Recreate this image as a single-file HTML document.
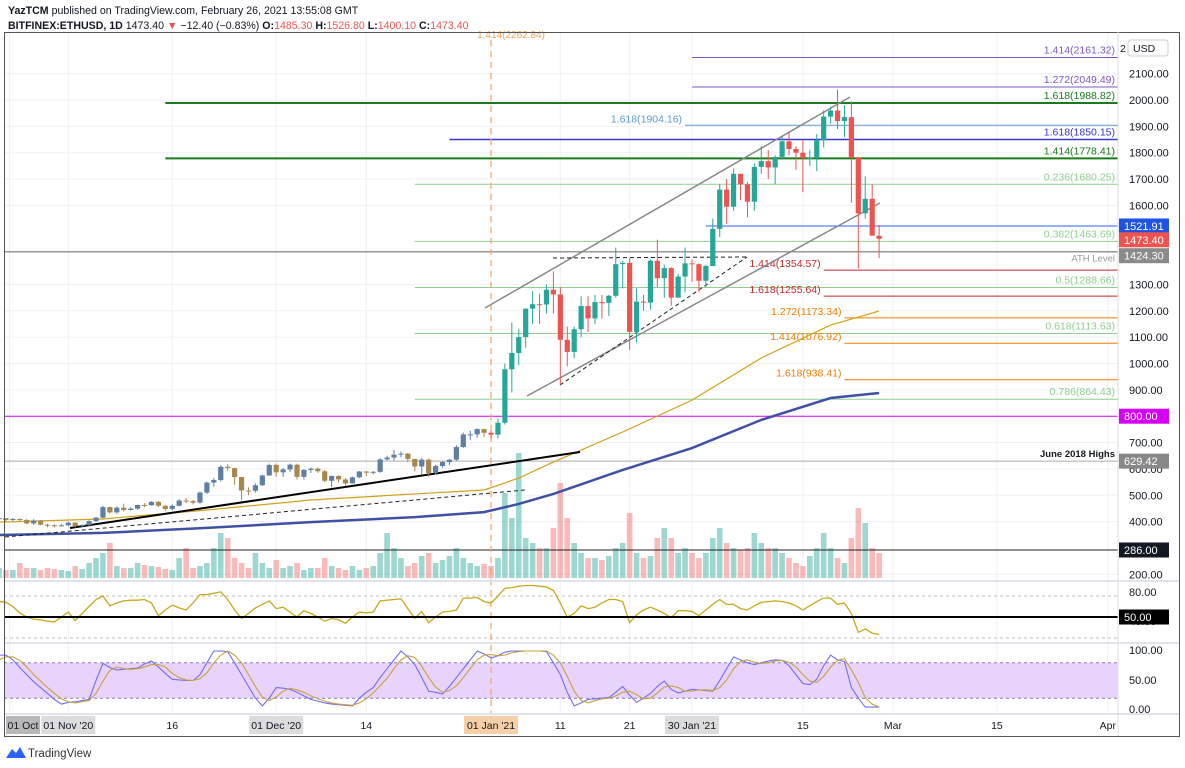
<!DOCTYPE html>
<html><head><meta charset="utf-8"><style>
body{margin:0;background:#fff;width:1185px;height:768px;overflow:hidden;font-family:"Liberation Sans",sans-serif;}
svg{position:absolute;left:0;top:0}
text{font-family:"Liberation Sans",sans-serif}
</style></head><body>
<svg id="c" width="1185" height="768" xmlns="http://www.w3.org/2000/svg"></svg>
<script>
// ===== DATA (Oct 22 2020 .. Feb 26 2021, daily) =====
const closes=[413,406,410,406,393,404,388,386,383,386,
396,383,387,402,415,455,435,453,444,449,463,462,475,460,448,460,480,478,472,510,548,558,608,603,569,518,517,538,575,615,
587,598,616,570,596,601,591,555,573,560,545,568,590,586,589,636,643,654,658,638,609,635,584,611,626,635,683,731,731,751,737,
730,775,978,1040,1100,1208,1225,1224,1280,1262,1090,1044,1130,1218,1171,1233,1230,1257,1377,1382,1120,1235,1231,1390,1324,1362,1250,1330,1380,1377,1314,
1370,1511,1660,1595,1720,1680,1614,1746,1768,1744,1784,1843,1814,1800,1780,1780,1847,1937,1960,1920,1935,1780,1570,1625,1485,1473];
const highs=[418,414,414,412,410,409,406,392,390,391,
400,398,390,405,418,460,457,457,468,455,465,470,477,478,462,465,485,490,482,515,552,566,614,618,605,570,530,545,578,620,
620,603,620,620,600,605,605,596,575,576,565,571,592,592,592,640,650,672,666,660,638,641,640,615,630,637,690,738,745,754,752,
745,790,1000,1155,1130,1210,1275,1265,1300,1350,1290,1140,1140,1255,1255,1260,1260,1260,1440,1390,1400,1285,1260,1395,1470,1375,1365,1340,1440,1395,1380,
1375,1550,1680,1700,1740,1700,1690,1760,1825,1810,1790,1860,1875,1825,1850,1810,1870,1960,1975,2040,1980,1995,1785,1710,1680,1526];
const lows=[400,400,402,402,390,388,386,378,378,381,
382,378,378,383,398,412,430,430,438,442,445,455,460,455,440,442,458,470,465,468,505,532,552,593,540,480,500,510,535,573,
570,570,588,560,560,585,585,550,530,548,537,544,565,573,580,585,632,632,644,626,590,580,570,578,605,615,630,680,710,718,720,
715,715,768,890,995,1060,1150,1150,1190,1190,920,990,1020,1100,1120,1150,1170,1180,1250,1285,1050,1080,1200,1205,1290,1250,1220,1250,1270,1310,1270,
1290,1370,1480,1530,1580,1620,1555,1580,1720,1700,1680,1775,1790,1735,1650,1750,1730,1820,1910,1890,1860,1610,1360,1550,1490,1400];
const volumes=[10,8,8,15,10,10,8,10,9,8,
7,12,9,15,20,25,35,12,10,10,15,13,12,11,9,8,20,30,10,12,15,30,45,40,20,15,10,25,15,10,
18,10,12,15,8,10,10,20,12,10,8,12,8,10,12,25,45,30,20,12,15,22,25,15,18,22,30,20,15,12,14,
12,20,85,60,125,40,35,30,30,50,95,60,35,25,20,20,18,22,30,35,65,25,20,22,40,50,40,25,30,25,20,
25,40,50,35,30,28,30,45,35,30,30,25,20,15,12,22,30,45,30,20,15,40,70,55,30,25];
const rsi=[72,71,65,56,50,47,46,44,43,50,57,45,55,65,75,80,66,70,73,74,74,75,70,52,60,67,63,60,70,82,
82,84,86,75,60,48,55,63,68,73,62,64,57,50,59,55,50,44,48,46,41,50,57,56,57,73,74,75,76,62,
48,58,42,50,57,58,60,77,77,78,72,70,80,91,92,94,95,95,94,93,88,70,50,55,66,62,64,70,75,75,
72,42,53,60,64,60,55,49,59,59,58,52,60,68,75,68,68,62,60,66,71,72,73,72,70,66,60,66,72,77,
77,68,70,55,28,33,27,25];
const stochK=[93,93,85,72,60,48,38,28,18,10,13,14,16,18,50,79,72,68,69,70,71,78,83,73,62,52,51,50,50,60,
80,100,100,99,80,60,40,20,7,20,38,37,35,30,24,18,15,12,10,9,8,7,20,30,38,55,70,85,100,90,
77,55,32,30,27,40,55,70,85,100,95,88,92,98,100,100,100,100,100,99,80,60,30,7,12,18,19,20,21,30,
40,25,13,20,28,40,49,35,29,32,35,34,33,32,50,70,90,85,80,77,80,83,85,84,75,60,45,43,52,75,
93,85,82,38,20,5,5,5];
const stochD=[85,90,90,84,73,60,49,38,28,19,14,12,14,16,28,49,67,73,70,69,70,73,77,77,73,62,55,51,50,53,
63,80,93,100,93,80,60,40,22,16,22,32,37,34,30,24,19,15,12,10,9,8,12,19,29,41,54,70,85,92,
89,74,55,39,30,33,41,55,70,85,93,94,92,93,97,99,100,100,100,100,93,80,57,32,16,12,16,19,20,24,
30,32,26,19,20,29,39,41,38,32,32,34,34,33,38,51,70,82,85,81,79,80,83,84,81,73,60,49,47,57,
73,84,87,68,47,21,10,5];
const maDays=[0,15,30,45,60,70,75,80,90,100,110,120,127];
const ma50=[398,410,444,482,505,520,565,626,740,861,1021,1146,1199];
const ma200=[349,357,376,398,417,436,467,505,596,679,786,869,888];
const priceTicks=[2100,2000,1900,1800,1700,1600,1300,1200,1100,1000,900,700,600,500,400,200];
const fibLevels=[
 {v:2161.32,t:"1.414(2161.32)",c:"#7e57c2",d0:100,lab:"r"},
 {v:2049.49,t:"1.272(2049.49)",c:"#7e57c2",d0:100,lab:"r"},
 {v:1988.82,t:"1.618(1988.82)",c:"#1b7a1b",d0:24,lab:"r",w:2},
 {v:1904.16,t:"1.618(1904.16)",c:"#5b9bd5",d0:99,lab:"l"},
 {v:1850.15,t:"1.618(1850.15)",c:"#3535d8",d0:65,lab:"r",w:1.5},
 {v:1778.41,t:"1.414(1778.41)",c:"#1b7a1b",d0:24,lab:"r",w:2},
 {v:1680.25,t:"0.236(1680.25)",c:"#8fcf8f",d0:60,lab:"r"},
 {v:1521.91,t:"",c:"#2962ff",d0:102,lab:"n"},
 {v:1463.69,t:"0.382(1463.69)",c:"#8fcf8f",d0:60,lab:"r"},
 {v:1354.57,t:"1.414(1354.57)",c:"#c62828",d0:119,lab:"l"},
 {v:1288.66,t:"0.5(1288.66)",c:"#8fcf8f",d0:60,lab:"r"},
 {v:1255.64,t:"1.618(1255.64)",c:"#c62828",d0:119,lab:"l"},
 {v:1173.34,t:"1.272(1173.34)",c:"#f57c00",d0:122,lab:"l"},
 {v:1113.63,t:"0.618(1113.63)",c:"#8fcf8f",d0:60,lab:"r"},
 {v:1076.92,t:"1.414(1076.92)",c:"#f57c00",d0:122,lab:"l"},
 {v:938.41,t:"1.618(938.41)",c:"#f57c00",d0:122,lab:"l"},
 {v:864.43,t:"0.786(864.43)",c:"#8fcf8f",d0:60,lab:"r"}];
const timeLabels=[[1.5,"01 Oct"],[10,"01 Nov '20"],[25,"16"],[40,"01 Dec '20"],[53,"14"],[71,"01 Jan '21"],[81,"11"],[91,"21"],[100,"30 Jan '21"],[116,"15"],[129,"Mar"],[144,"15"],[160,"Apr"]];

// ===== AXES =====
const X=d=>-1+d*6.93;
const Y=p=>100+(2000-p)*0.2635;
const YR=v=>617-(v-50)*0.7;
const YS=v=>710-v*0.59;
const VB=578, VS=1.0;
const svg=document.getElementById('c');
const NS="http://www.w3.org/2000/svg";
function mk(tag,at,parent){const e=document.createElementNS(NS,tag);for(const k in at)e.setAttribute(k,at[k]);(parent||svg).appendChild(e);return e;}
function tx(x,y,s,at,parent){const e=mk('text',Object.assign({x:x,y:y,'font-size':11,fill:'#131722'},at),parent);e.textContent=s;return e;}
const R=1118;

// header
let h=tx(8,14,"",{'font-size':10.6});

h.innerHTML='<tspan font-weight="bold">YazTCM</tspan> published on TradingView.com, February 26, 2021 13:55:08 GMT';
let h2=tx(8,29,"",{'font-size':10.6});

h2.innerHTML='<tspan font-weight="bold">BITFINEX:ETHUSD, 1D</tspan> 1473.40 <tspan fill="#ef5350">▼</tspan> −12.40 (−0.83%) <tspan font-weight="bold">O:</tspan><tspan fill="#ef5350">1485.30</tspan> <tspan font-weight="bold">H:</tspan><tspan fill="#ef5350">1526.80</tspan> <tspan font-weight="bold">L:</tspan><tspan fill="#ef5350">1400.10</tspan> <tspan font-weight="bold">C:</tspan><tspan fill="#ef5350">1473.40</tspan>';

// grid
const grid=mk('g',{stroke:'#eef0f4','stroke-width':1});

timeLabels.forEach(t=>{const x=X(t[0]);if(x<R)mk('line',{x1:x,x2:x,y1:32,y2:714},grid);});
priceTicks.forEach(p=>mk('line',{x1:4,x2:R,y1:Y(p),y2:Y(p)},grid));

// stoch band
let band=mk('rect',{x:4,y:YS(80),width:R-4,height:YS(20)-YS(80),fill:'#e7d3fb'});

[80,20].forEach(v=>mk('line',{x1:4,x2:R,y1:YS(v),y2:YS(v),stroke:'#8a7aa8','stroke-dasharray':'3,3'}));
[80,20].forEach(v=>mk('line',{x1:4,x2:R,y1:YR(v),y2:YR(v),stroke:'#bbb','stroke-dasharray':'3,3'}));

// volume
const vg=mk('g',{});
volumes.forEach((v,i)=>{const up=closes[i]>=(i?closes[i-1]:closes[i]);
 const b=mk('rect',{x:X(i)-2.8,y:VB-v*VS,width:5.6,height:v*VS,fill:up?'rgba(38,166,154,0.45)':'rgba(239,83,80,0.4)'},vg);
 });

// fib levels
fibLevels.forEach(f=>{const y=Y(f.v);const x0=X(f.d0);
 const l=mk('line',{x1:x0,x2:R,y1:y,y2:y,stroke:f.c,'stroke-width':f.w||1});
 
 if(f.lab==='r'){const t=tx(R-3,y-4,f.t,{'text-anchor':'end',fill:f.c,'font-size':10.5});}
 if(f.lab==='l'){const t=tx(x0-3,y-3,f.t,{'text-anchor':'end',fill:f.c,'font-size':10.5});}
});
// full-width levels
let ath=mk('line',{x1:4,x2:R,y1:Y(1424.3),y2:Y(1424.3),stroke:'#999','stroke-width':1.5});

let atht=tx(R-3,Y(1424.3)+10,"ATH Level",{'text-anchor':'end',fill:'#999','font-size':9.5});

let m800=mk('line',{x1:4,x2:R,y1:Y(800),y2:Y(800),stroke:'#d500f9'});

let j18=mk('line',{x1:4,x2:R,y1:Y(629.42),y2:Y(629.42),stroke:'#aaa'});

let j18t=tx(R-3,Y(629.42)-4,"June 2018 Highs",{'text-anchor':'end','font-weight':'bold','font-size':9.5});

let l286=mk('line',{x1:4,x2:R,y1:550,y2:550,stroke:'#222'});


// vertical dashed
let vd=mk('line',{x1:X(71),x2:X(71),y1:40,y2:714,stroke:'#f5a25d','stroke-dasharray':'6,5','stroke-width':1.2});

let vdt=tx(X(71)+20,38,"1.414(2262.84)",{'text-anchor':'middle',fill:'#f5a25d','font-size':10});


// moving averages
function maPath(arr){return maDays.map((d,i)=>(i?'L':'M')+X(d)+','+Y(arr[i])).join(' ');}
let m50=mk('path',{d:maPath(ma50),fill:'none',stroke:'#d4a017','stroke-width':1.2});

let m200=mk('path',{d:maPath(ma200),fill:'none',stroke:'#3f51a5','stroke-width':2.5});


// drawings
function dl(x1,y1,x2,y2,st,name){const l=mk('line',Object.assign({x1:x1,y1:y1,x2:x2,y2:y2},st));}
dl(485,308,850,97,{stroke:'#888','stroke-width':1.5},'channel-upper');
dl(527,396,880,203,{stroke:'#888','stroke-width':1.5},'channel-lower');
dl(553,258,746,257,{stroke:'#222','stroke-dasharray':'4,3'},'triangle-top');
dl(560,385,747,257,{stroke:'#222','stroke-dasharray':'4,3'},'triangle-bottom');
dl(70,528,580,452,{stroke:'#000','stroke-width':2},'trendline');
dl(5,537,525,490,{stroke:'#222','stroke-dasharray':'4,3'},'dashed-trendline');

// candles
const cg=mk('g',{});
closes.forEach((c,i)=>{const o=i?closes[i-1]:c;const up=c>=o;const late=i>=71;
 const col=late?(up?'#26a69a':'#ef5350'):(up?'#5f7fa3':'#a8874f');
 const x=X(i);
 const w=mk('line',{x1:x,x2:x,y1:Y(highs[i]),y2:Y(lows[i]),stroke:col},cg);
 
 const t=Y(Math.max(o,c)),b=Y(Math.min(o,c));
 const r=mk('rect',{x:x-2.6,y:t,width:5.2,height:Math.max(1,b-t),fill:col},cg);
 });

// RSI panel
let rp=mk('path',{d:rsi.map((v,i)=>(i?'L':'M')+X(i)+','+YR(v)).join(' '),fill:'none',stroke:'#c9a81e','stroke-width':1.3});

let r50=mk('line',{x1:4,x2:R,y1:YR(50),y2:YR(50),stroke:'#000','stroke-width':2});


// Stoch
let sk=mk('path',{d:stochK.map((v,i)=>(i?'L':'M')+X(i)+','+YS(v)).join(' '),fill:'none',stroke:'#6f6ff0','stroke-width':1.1});

let sd=mk('path',{d:stochD.map((v,i)=>(i?'L':'M')+X(i)+','+YS(v)).join(' '),fill:'none',stroke:'#c8a040','stroke-width':1.1});


// panel separators & frame
[581,643,714].forEach(y=>mk('line',{x1:4,x2:1180,y1:y,y2:y,stroke:'#e0e3eb','stroke-width':2}));
let fr=mk('rect',{x:4.5,y:32.5,width:1175,height:704,fill:'none',stroke:'#555'});

mk('line',{x1:R,x2:R,y1:32,y2:736,stroke:'#ddd'});

// price axis labels
const ag=mk('g',{});
priceTicks.forEach(p=>{tx(1129,Y(p)+4,p.toFixed(2),{},ag);});
[[596,"80.00"],[625,"40.00"],[654,"100.00"],[684,"50.00"],[713,"0.00"]].forEach(a=>tx(1129,a[0],a[1]));
let usd=mk('rect',{x:1128,y:40,width:40,height:16,rx:3,fill:'#fff',stroke:'#ccc'});

tx(1133,52,"USD",{'font-size':10.5});
tx(1120,52,"2",{'font-size':10.5});
function badge(y,bg,s,fg,name){const r=mk('rect',{x:1119,y:y-7.5,width:50,height:15,fill:bg});tx(1124,y+4,s,{fill:fg||'#fff'});}
badge(Y(1521.91),'#1e53e5','1521.91',null,'badge-1521');
badge(Y(1473.4)+1,'#ef5350','1473.40',null,'last-price-badge');
badge(Y(1424.3)+4,'#8a8a8a','1424.30',null,'badge-ath');
badge(Y(800),'#d500f9','800.00',null,'badge-800');
badge(Y(629.42),'#888','629.42',null,'badge-629');
badge(550,'#131722','286.00',null,'badge-286');
badge(YR(50),'#000','50.00',null,'badge-rsi-50');

// time axis
timeLabels.forEach(t=>{const x=X(t[0]);
 if(t[1].length>4){const bg=t[1]==="01 Jan '21"?'#f7cfa6':(t[1]==="01 Oct"?'#b8b8b8':'#dcdcdc');
  const w=t[1]==="01 Oct"?34:54;const bx=t[1]==="01 Oct"?6:x-w/2;
  const r=mk('rect',{x:bx,y:716,width:w,height:18,fill:bg});
  const e=tx(bx+w/2,729,t[1],{'text-anchor':'middle','font-size':10.5});}
 else{const e=tx(x,729,t[1],{'text-anchor':'middle','font-size':10.5});}
});

// logo
let lg=mk('path',{d:'M6 758 L12 749 L16 753 L20 747 L26 758 Z',fill:'#2962ff'});

let lt=tx(28,757,"TradingView",{'font-size':11.5,fill:'#333'});

</script>
</body></html>
